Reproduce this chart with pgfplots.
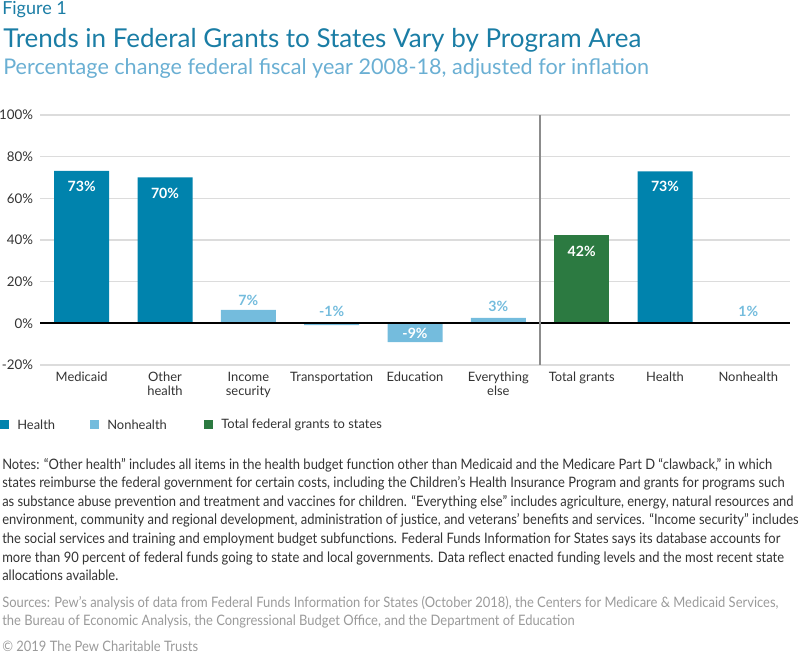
\documentclass[border=0pt]{standalone}
\usepackage{pgfplots}
\pgfplotsset{compat=1.18}
\usepackage{fontspec}
\setmainfont{Lato}
\newfontfamily\condfont[FakeStretch=0.90]{Lato}
\definecolor{health}{HTML}{0083AD}
\definecolor{nonhealth}{HTML}{74BCDD}
\definecolor{total}{HTML}{2C7A41}
\definecolor{titleblue}{HTML}{1A7DA5}
\definecolor{subblue}{HTML}{6AAFD3}
\definecolor{txt}{HTML}{333333}
\definecolor{srcgray}{HTML}{9A9A9A}
\definecolor{gridgray}{HTML}{DCDCDC}
\definecolor{divgray}{HTML}{8C8C8C}
\begin{document}
\begin{tikzpicture}[x=0.75pt,y=0.75pt]
\path[use as bounding box] (0,0) rectangle (800,-653);
% titles
\node[anchor=west, inner sep=0pt, text=titleblue, font=\fontsize{13.5}{15}\selectfont] at (2,-10) {Figure 1};
\node[anchor=west, inner sep=0pt, text=titleblue, font=\fontsize{19.5}{22}\selectfont] at (3,-40) {Trends in Federal Grants to States Vary by Program Area};
\node[anchor=west, inner sep=0pt, text=subblue, font=\fontsize{16.2}{19}\selectfont] at (3,-69) {Percentage change federal fiscal year 2008-18, adjusted for inflation};
\begin{axis}[
  at={(30pt,-273.75pt)}, anchor=south west,
  scale only axis, width=562.5pt, height=187.5pt,
  xmin=-0.5, xmax=8.5, ymin=-20, ymax=100,
  ybar,
  axis line style={draw=none},
  tick style={draw=none},
  ytick={-20,0,20,40,60,80,100},
  yticklabels={-20\%,0\%,20\%,40\%,60\%,80\%,100\%},
  ymajorgrids, major grid style={gridgray, line width=0.9pt},
  yticklabel style={font=\fontsize{10}{12}\selectfont, text=txt, anchor=east, inner sep=0pt, xshift=-5pt},
  xtick={0,...,8},
  xticklabels={Medicaid,{Other\\health},{Income\\security},Transportation,Education,{Everything\\else},Total grants,Health,Nonhealth},
  xticklabel style={font=\fontsize{9.7}{10.5}\selectfont, text=txt, align=center, anchor=north, inner sep=0pt, yshift=-1pt},
  clip=false,
]
\addplot[fill=health, draw=none, bar width=41.25pt, bar shift=0pt] coordinates {(0,73.2) (1,70.1) (7,73)};
\addplot[fill=nonhealth, draw=none, bar width=41.25pt, bar shift=0pt] coordinates {(2,6.5) (3,-0.8) (4,-9) (5,2.6) (8,0.6)};
\addplot[fill=total, draw=none, bar width=41.25pt, bar shift=0pt] coordinates {(6,42.4)};
\draw[black, line width=1.5pt] (axis cs:-0.5,0) -- (axis cs:8.5,0);
\draw[divgray, line width=1.1pt] (axis cs:5.5,-20) -- (axis cs:5.5,100);
\begin{scope}[every node/.style={font=\bfseries\fontsize{10.6}{12}\selectfont, inner sep=0pt}]
\node[text=white] at (axis cs:0,65.6) {73\%};
\node[text=white] at (axis cs:1,62.5) {70\%};
\node[text=nonhealth] at (axis cs:2,11.2) {7\%};
\node[text=nonhealth] at (axis cs:3,5.6) {-1\%};
\node[text=white] at (axis cs:4,-4.8) {-9\%};
\node[text=nonhealth] at (axis cs:5,8) {3\%};
\node[text=white] at (axis cs:6,34.7) {42\%};
\node[text=white] at (axis cs:7,65.5) {73\%};
\node[text=nonhealth] at (axis cs:8,5.6) {1\%};
\end{scope}
\end{axis}
% legend
\fill[health] (0,-420) rectangle (9,-429);
\node[anchor=west, inner sep=0pt, text=txt, font=\fontsize{9.7}{11}\selectfont] at (17,-424.5) {Health};
\fill[nonhealth] (90,-420) rectangle (99,-429);
\node[anchor=west, inner sep=0pt, text=txt, font=\fontsize{9.7}{11}\selectfont] at (107,-424.5) {Nonhealth};
\fill[total] (204,-420) rectangle (213,-429);
\node[anchor=west, inner sep=0pt, text=txt, font=\fontsize{9.7}{11}\selectfont] at (221,-424.5) {Total federal grants to states};
% notes
\begin{scope}[every node/.style={anchor=base west, inner sep=0pt, text=txt, font=\condfont\fontsize{10.8}{12}\selectfont}]
\node at (2,-469) {Notes: “Other health” includes all items in the health budget function other than Medicaid and the Medicare Part D “clawback,” in which};
\node at (2,-487.6) {states reimburse the federal government for certain costs, including the Children’s Health Insurance Program and grants for programs such};
\node at (2,-506.2) {as substance abuse prevention and treatment and vaccines for children. “Everything else” includes agriculture, energy, natural resources and};
\node at (2,-524.8) {environment, community and regional development, administration of justice, and veterans’ benefits and services. “Income security” includes};
\node at (2,-543.4) {the social services and training and employment budget subfunctions. Federal Funds Information for States says its database accounts for};
\node at (2,-562) {more than 90 percent of federal funds going to state and local governments. Data reflect enacted funding levels and the most recent state};
\node at (2,-580.6) {allocations available.};
\end{scope}
\begin{scope}[every node/.style={anchor=base west, inner sep=0pt, text=srcgray, font=\condfont\fontsize{10.8}{12}\selectfont}]
\node at (2,-607) {Sources: Pew’s analysis of data from Federal Funds Information for States (October 2018), the Centers for Medicare \& Medicaid Services,};
\node at (2,-625.6) {the Bureau of Economic Analysis, the Congressional Budget Office, and the Department of Education};
\node at (2,-651) {© 2019 The Pew Charitable Trusts};
\end{scope}
\end{tikzpicture}
\end{document}
